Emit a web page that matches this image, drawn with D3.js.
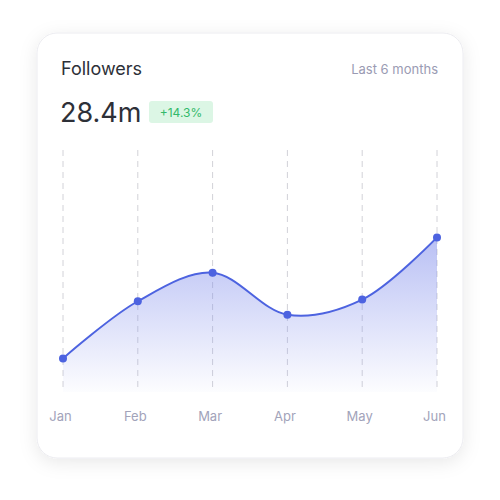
<!DOCTYPE html>
<html>
<head>
<meta charset="utf-8">
<script src="https://cdn.jsdelivr.net/npm/d3@7"></script>
<style>
  body { margin: 0; background: #fff; font-family: Inter, "Noto Sans", sans-serif; }
</style>
</head>
<body>
<svg width="500" height="500"></svg>
<script>
var months = ["Jan", "Feb", "Mar", "Apr", "May", "Jun"];
var followers = [24.8, 26.5, 27.35, 26.1, 26.55, 28.4];
var total = "28.4m";
var change = "+14.3%";

var card = {x: 37, y: 33, w: 426, h: 425};
var plot = {left: 63, right: 437, top: 150, bottom: 392};

var svg = d3.select("svg");
var defs = svg.append("defs");

var shadow = defs.append("filter")
  .attr("id", "shadow")
  .attr("x", "-20%").attr("y", "-20%")
  .attr("width", "140%").attr("height", "140%");
shadow.append("feDropShadow")
  .attr("dx", 0).attr("dy", 4)
  .attr("stdDeviation", 9)
  .attr("flood-color", "#000")
  .attr("flood-opacity", 0.09);

var grad = defs.append("linearGradient")
  .attr("id", "fill")
  .attr("x1", 0).attr("y1", 0).attr("x2", 0).attr("y2", 1);
grad.append("stop").attr("offset", "0%").attr("stop-color", "#7f8ceb").attr("stop-opacity", 0.55);
grad.append("stop").attr("offset", "100%").attr("stop-color", "#7f8ceb").attr("stop-opacity", 0.02);

svg.append("rect")
  .attr("x", card.x).attr("y", card.y)
  .attr("width", card.w).attr("height", card.h)
  .attr("rx", 20)
  .attr("fill", "#fff")
  .attr("stroke", "#ececf0")
  .attr("filter", "url(#shadow)");

// header
svg.append("text")
  .attr("x", 61).attr("y", 75)
  .attr("font-size", 18)
  .attr("fill", "#2d3038")
  .text("Followers");

svg.append("text")
  .attr("x", 438).attr("y", 74)
  .attr("text-anchor", "end")
  .attr("font-size", 13)
  .attr("fill", "#9a9bb3")
  .text("Last 6 months");

svg.append("text")
  .attr("x", 60).attr("y", 122)
  .attr("font-size", 27)
  .attr("fill", "#2d3038")
  .text(total);

svg.append("rect")
  .attr("x", 149).attr("y", 101)
  .attr("width", 64).attr("height", 22)
  .attr("rx", 3)
  .attr("fill", "#dcf6e5");

svg.append("text")
  .attr("x", 181).attr("y", 116.5)
  .attr("text-anchor", "middle")
  .attr("font-size", 12)
  .attr("fill", "#33b96a")
  .text(change);

// scales
var x = d3.scalePoint().domain(months).range([plot.left, plot.right]);
var y = d3.scaleLinear().domain([23.8, 31]).range([plot.bottom, plot.top]);

var data = months.map(function (m, i) { return {month: m, value: followers[i]}; });

// dashed grid
svg.append("g")
  .selectAll("line")
  .data(months)
  .enter()
  .append("line")
  .attr("x1", function (d) { return x(d); })
  .attr("x2", function (d) { return x(d); })
  .attr("y1", plot.top)
  .attr("y2", plot.bottom)
  .attr("stroke", "#d2d2d8")
  .attr("stroke-dasharray", "6,5");

var curve = d3.curveCatmullRom.alpha(0.5);

var area = d3.area()
  .x(function (d) { return x(d.month); })
  .y0(plot.bottom)
  .y1(function (d) { return y(d.value); })
  .curve(curve);

var line = d3.line()
  .x(function (d) { return x(d.month); })
  .y(function (d) { return y(d.value); })
  .curve(curve);

svg.append("path")
  .datum(data)
  .attr("d", area)
  .attr("fill", "url(#fill)");

svg.append("path")
  .datum(data)
  .attr("d", line)
  .attr("fill", "none")
  .attr("stroke", "#4d63e0")
  .attr("stroke-width", 2);

svg.selectAll("circle")
  .data(data)
  .enter()
  .append("circle")
  .attr("cx", function (d) { return x(d.month); })
  .attr("cy", function (d) { return y(d.value); })
  .attr("r", 4)
  .attr("fill", "#4d63e0");

// month labels
var axis = d3.axisBottom(x).tickSize(0).tickPadding(0);
var ax = svg.append("g")
  .attr("transform", "translate(-3," + (plot.bottom + 20) + ")")
  .call(axis);
ax.select(".domain").remove();
ax.selectAll("text")
  .attr("font-family", "Inter, 'Noto Sans', sans-serif")
  .attr("font-size", 13)
  .attr("fill", "#a2a3ba");
</script>
</body>
</html>
